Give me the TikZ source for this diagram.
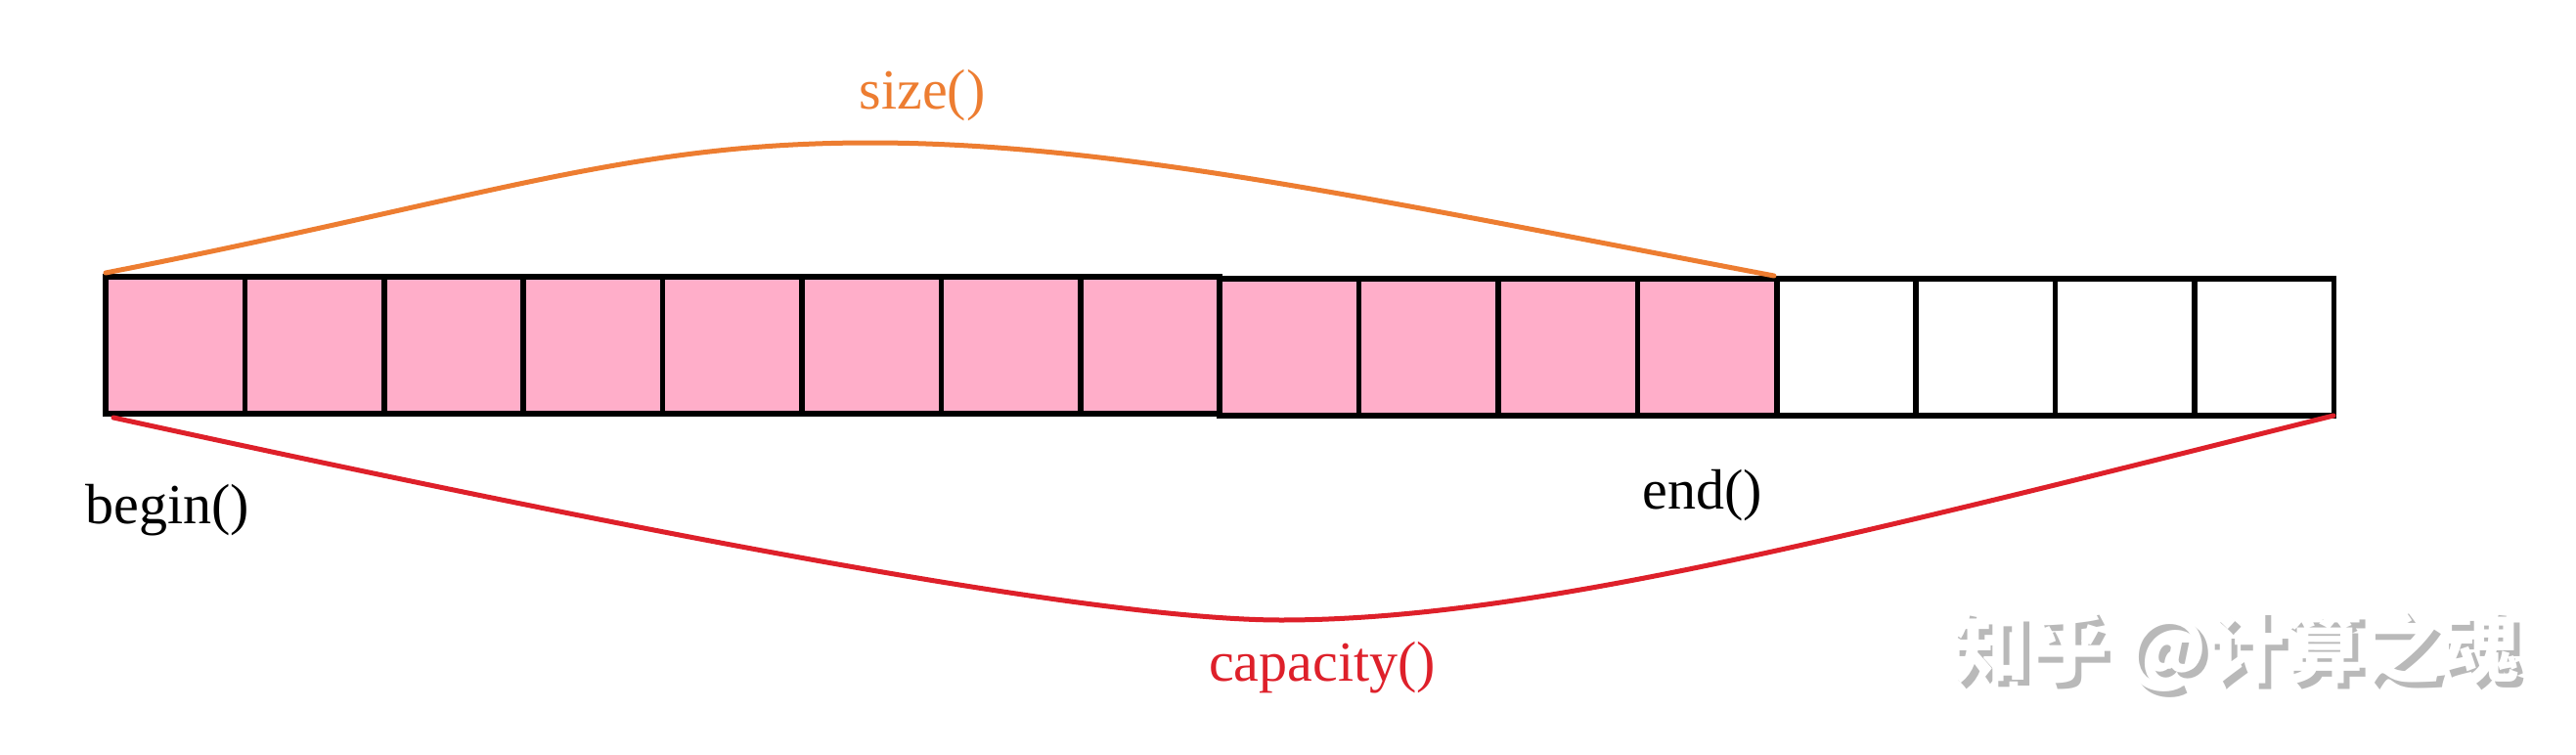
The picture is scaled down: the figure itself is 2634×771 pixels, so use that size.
\documentclass[tikz,border=0pt]{standalone}
\usepackage{fontspec}
\setmainfont{Liberation Serif}
\newfontfamily\cjk{Noto Sans CJK SC}
\definecolor{cellpink}{RGB}{255,174,201}
\definecolor{sizeorange}{RGB}{237,125,49}
\definecolor{capred}{RGB}{222,32,42}
\definecolor{wmgray}{RGB}{185,185,185}
\newcommand{\wmshadowed}[1]{\makebox[0pt][l]{\hspace{6pt}\raisebox{-6pt}{\color{wmgray}#1}}\textcolor{white}{#1}}
\tikzset{
  cell/.style={draw=black, line width=5.5pt, rectangle, inner sep=0pt,
    minimum width=142.4pt, minimum height=140pt},
  used/.style={cell, fill=cellpink},
  free/.style={cell, fill=white},
  lbl/.style={anchor=base, inner sep=0pt, font=\fontsize{58}{68}\selectfont},
  brace/.style={line width=5pt, line cap=round},
  wm/.style={anchor=base west, inner sep=0pt, font=\cjk\bfseries\fontsize{80}{90}\selectfont}
}
\begin{document}
\begin{tikzpicture}[x=1pt,y=-1pt]
\useasboundingbox[fill=white] (0,0) rectangle (2634,771);
% cells: first 8 pink
\foreach \i in {1,...,8}{
  \node[used] (b\i) at ({108+142.4*(\i-0.5)},353) {};
}
\foreach \i in {9,...,12}{
  \node[used] (b\i) at ({108+142.4*(\i-0.5)},355) {};
}
\foreach \i in {13,...,16}{
  \node[free] (b\i) at ({108+142.4*(\i-0.5)},355) {};
}
% curve points
\coordinate (s0) at (108,279);
\coordinate (sp) at (890,146);
\coordinate (s1) at (1814,282);
\coordinate (c0) at (116,427);
\coordinate (cp) at (1310,634);
\coordinate (c1) at (2386,425);
% size() brace
\draw[brace, sizeorange] (s0) .. controls (500,202) and (640,146) .. (sp)
  .. controls (1140,146) and (1414,206) .. (s1);
% capacity() brace
\draw[brace, capred] (c0) .. controls (610,535) and (1110,634) .. (cp)
  .. controls (1560,634) and (1886,550) .. (c1);
% labels
\node[lbl, text=sizeorange] (lsize) at (943,111) {size()};
\node[lbl] (lbegin) at (171,535) {begin()};
\node[lbl] (lend) at (1741,520) {end()};
\node[lbl, text=capred] (lcap) at (1352,696) {capacity()};
% watermark
\node[wm] (wmark) at (1995,691) {\wmshadowed{知乎 @计算之魂}};
\end{tikzpicture}
\end{document}
